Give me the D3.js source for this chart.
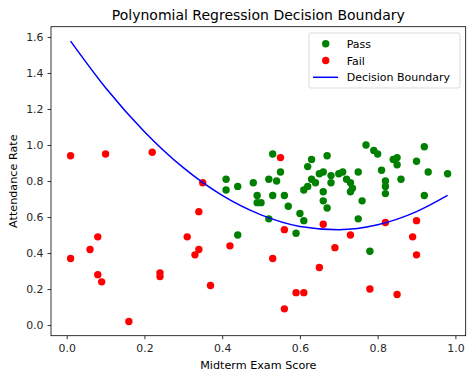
<!DOCTYPE html>
<html><head><meta charset="utf-8">
<script src="https://cdn.jsdelivr.net/npm/d3@7"></script>
<style>body{margin:0;background:#fff}svg{display:block;font-family:"DejaVu Sans",sans-serif}</style>
</head><body>
<svg id="c" width="474" height="380"></svg>
<script>
const passX = [0.41,0.41,0.44,0.48,0.49,0.49,0.50,0.44,0.53,0.52,0.54,0.55,0.53,0.56,0.57,0.52,0.60,0.61,0.59,0.63,0.67,0.62,0.65,0.66,0.68,0.70,0.71,0.63,0.64,0.62,0.61,0.68,0.72,0.73,0.735,0.73,0.66,0.66,0.67,0.75,0.75,0.77,0.79,0.80,0.92,0.84,0.85,0.85,0.90,0.98,0.81,0.93,0.86,0.82,0.82,0.82,0.76,0.92,0.78];
const passY = [0.81,0.75,0.77,0.79,0.72,0.68,0.68,0.50,0.95,0.81,0.80,0.85,0.72,0.72,0.66,0.59,0.62,0.58,0.51,0.92,0.94,0.88,0.84,0.85,0.83,0.84,0.85,0.81,0.79,0.77,0.75,0.79,0.81,0.79,0.76,0.74,0.74,0.69,0.65,0.85,0.59,1.00,0.97,0.95,0.99,0.92,0.93,0.89,0.91,0.84,0.86,0.85,0.81,0.80,0.77,0.73,0.69,0.72,0.41];
const failX = [0.01,0.10,0.22,0.35,0.34,0.08,0.06,0.01,0.08,0.09,0.16,0.24,0.24,0.31,0.34,0.33,0.37,0.42,0.66,0.56,0.73,0.69,0.53,0.65,0.59,0.61,0.56,0.78,0.85,0.82,0.90,0.89,0.90,0.55];
const failY = [0.94,0.95,0.96,0.79,0.63,0.49,0.42,0.37,0.28,0.24,0.02,0.29,0.27,0.49,0.42,0.39,0.22,0.44,0.56,0.53,0.50,0.43,0.37,0.32,0.18,0.18,0.09,0.20,0.17,0.57,0.58,0.49,0.39,0.93];
const boundX = [0.01,0.1,0.2,0.3,0.4,0.5,0.6,0.7,0.8,0.9,0.98];
const boundY = [1.577,1.318,1.074,0.874,0.720,0.612,0.548,0.530,0.557,0.630,0.720];
const xTicks = [0.0,0.2,0.4,0.6,0.8,1.0];
const yTicks = [0.0,0.2,0.4,0.6,0.8,1.0,1.2,1.4,1.6];

const svg = d3.select("#c");
const L=51, R=465.7, T=26.7, B=335.7;
const x = d3.scaleLinear().domain([-0.0404,1.0265]).range([L,R]);
const y = d3.scaleLinear().domain([-0.059,1.657]).range([B,T]);

// axes
const xa = svg.append("g").attr("transform",`translate(0,${B})`)
  .call(d3.axisBottom(x).tickValues(xTicks).tickFormat(d3.format(".1f")).tickSizeOuter(0).tickSize(3.5).tickPadding(5));
const ya = svg.append("g").attr("transform",`translate(${L},0)`)
  .call(d3.axisLeft(y).tickValues(yTicks).tickFormat(d3.format(".1f")).tickSizeOuter(0).tickSize(3.5).tickPadding(4));
[xa,ya].forEach(g=>{
  g.select(".domain").remove();
  g.selectAll("line").attr("stroke","#000").attr("stroke-width",0.8);
  g.selectAll("text").attr("font-size",10.9).attr("fill","#262626").attr("font-family","DejaVu Sans");
});
svg.append("rect").attr("x",L).attr("y",T).attr("width",R-L).attr("height",B-T)
  .attr("fill","none").attr("stroke","#000").attr("stroke-width",0.8);

// points
svg.append("g").selectAll("circle").data(passX.map((v,i)=>[v,passY[i]])).join("circle")
  .attr("cx",d=>x(d[0])).attr("cy",d=>y(d[1])).attr("r",3.7).attr("fill","#008000");
svg.append("g").selectAll("circle").data(failX.map((v,i)=>[v,failY[i]])).join("circle")
  .attr("cx",d=>x(d[0])).attr("cy",d=>y(d[1])).attr("r",3.7).attr("fill","#ff0000");

// boundary
const line = d3.line().x(d=>x(d[0])).y(d=>y(d[1])).curve(d3.curveMonotoneX);
svg.append("path").datum(boundX.map((v,i)=>[v,boundY[i]])).attr("d",line)
  .attr("fill","none").attr("stroke","#0000ff").attr("stroke-width",1.5);

// title and labels
svg.append("text").attr("x",(L+R)/2).attr("y",19.5).attr("text-anchor","middle")
  .attr("font-size",14).attr("fill","#000").text("Polynomial Regression Decision Boundary");
svg.append("text").attr("x",(L+R)/2).attr("y",369).attr("text-anchor","middle")
  .attr("font-size",11.2).attr("fill","#000").text("Midterm Exam Score");
svg.append("text").attr("transform",`translate(17,${(T+B)/2}) rotate(-90)`).attr("text-anchor","middle")
  .attr("font-size",11.2).attr("fill","#000").text("Attendance Rate");

// legend
const lg = svg.append("g");
lg.append("rect").attr("x",309).attr("y",33).attr("width",151).attr("height",55).attr("rx",2)
  .attr("fill","#fff").attr("fill-opacity",0.8).attr("stroke","#d0d0d0").attr("stroke-width",0.8);
const items=[{t:"Pass",c:"#008000",k:"dot"},{t:"Fail",c:"#ff0000",k:"dot"},{t:"Decision Boundary",c:"#0000ff",k:"line"}];
items.forEach((it,i)=>{
  const yy = 43.7 + i*16.8;
  if(it.k==="dot") lg.append("circle").attr("cx",325.7).attr("cy",yy).attr("r",3.7).attr("fill",it.c);
  else lg.append("line").attr("x1",313).attr("x2",338).attr("y1",yy).attr("y2",yy).attr("stroke",it.c).attr("stroke-width",1.5);
  lg.append("text").attr("x",346.7).attr("y",yy+4).attr("font-size",11).attr("fill","#000").text(it.t);
});
</script>
</body></html>
